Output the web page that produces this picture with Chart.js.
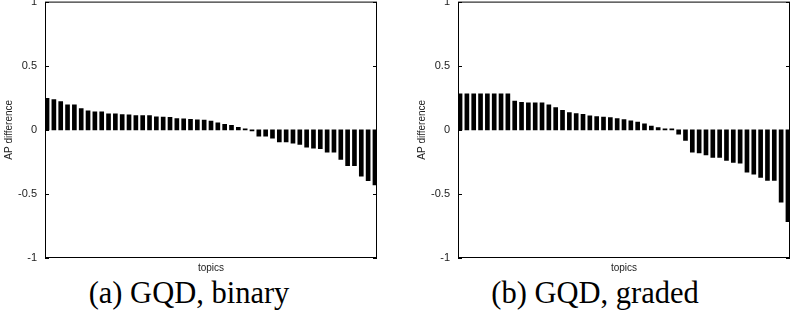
<!DOCTYPE html>
<html><head><meta charset="utf-8">
<script src="https://cdn.jsdelivr.net/npm/chart.js@4.4.1/dist/chart.umd.min.js"></script>
<style>
html,body{margin:0;padding:0;background:#fff;width:798px;height:316px;overflow:hidden;position:relative}
.box{position:absolute;top:-13px;width:385px;height:289px}
.cap{position:absolute;font-family:"Liberation Serif","Times New Roman",serif;font-size:30.5px;line-height:30px;white-space:nowrap;color:#000;text-align:center;width:300px}
</style></head><body>
<div class="box" style="left:0"><canvas id="c1"></canvas></div>
<div class="box" style="left:413px"><canvas id="c2"></canvas></div>
<div class="cap" style="left:39px;top:278px">(a) GQD, binary</div>
<div class="cap" style="left:445px;top:278px">(b) GQD, graded</div>
<script>
const topics = [1,2,3,4,5,6,7,8,9,10,11,12,13,14,15,16,17,18,19,20,21,22,23,24,25,26,27,28,29,30,31,32,33,34,35,36,37,38,39,40,41,42,43,44,45,46,47,48,49];
const binaryDiff = [0.245,0.235,0.22,0.195,0.195,0.165,0.148,0.14,0.14,0.125,0.125,0.118,0.117,0.11,0.11,0.11,0.102,0.1,0.097,0.088,0.085,0.082,0.077,0.075,0.068,0.055,0.043,0.034,0.02,0.004,-0.004,-0.05,-0.05,-0.065,-0.095,-0.095,-0.104,-0.115,-0.135,-0.143,-0.148,-0.174,-0.174,-0.232,-0.279,-0.279,-0.362,-0.396,-0.43];
const gradedDiff = [0.28,0.28,0.28,0.28,0.28,0.28,0.28,0.28,0.224,0.215,0.21,0.21,0.21,0.195,0.173,0.152,0.135,0.127,0.121,0.108,0.103,0.1,0.095,0.088,0.08,0.07,0.06,0.046,0.029,0.018,0.008,0.003,-0.035,-0.083,-0.175,-0.18,-0.195,-0.215,-0.215,-0.238,-0.254,-0.26,-0.331,-0.347,-0.372,-0.395,-0.395,-0.565,-0.716];
const yTicks = [-1,-0.5,0,0.5,1];
const yTickLabels = ['-1','-0.5','0','0.5','1'];
const yTitle = 'AP difference';
const xTitle = 'topics';

const framePlugin = {
  id:'frame',
  afterDraw(chart){
    const {ctx, chartArea:a, scales} = chart;
    ctx.save();
    ctx.strokeStyle = '#000';
    ctx.lineWidth = 1;
    ctx.strokeRect(a.left+0.5, a.top+0.5, a.right-a.left-1, a.bottom-a.top-1);
    ctx.beginPath();
    yTicks.forEach(v=>{
      const y = Math.round(scales.y.getPixelForValue(v))+0.5;
      ctx.moveTo(a.left, y); ctx.lineTo(a.left+4, y);
      ctx.moveTo(a.right-4, y); ctx.lineTo(a.right, y);
    });
    ctx.stroke();
    ctx.restore();
  }
};

function makeChart(id, values){
  return new Chart(document.getElementById(id), {
    type:'bar',
    data:{datasets:[{data: topics.map((t,i)=>({x:t, y:values[i]})), backgroundColor:'#000', borderWidth:0, barThickness:4, minBarLength:1}]},
    options:{
      responsive:true, maintainAspectRatio:false, animation:false,
      layout:{padding:{left:0,right:8,top:0,bottom:1.4}},
      plugins:{legend:{display:false}, tooltip:{enabled:false}},
      scales:{
        x:{type:'linear', min:0.7, max:49.3, offset:false, bounds:'ticks',
           grid:{display:false, drawTicks:false, tickLength:0, offset:false},
           border:{display:false},
           ticks:{display:false},
           title:{display:true, text:xTitle, color:'#222', font:{family:'Liberation Sans', size:10}, padding:{top:0,bottom:0}},
           afterFit(s){ s.height = 16.6; }},
        y:{min:-1, max:1,
           grid:{display:false, drawTicks:false, tickLength:0},
           border:{display:false},
           afterBuildTicks(s){ s.ticks = yTicks.map(v=>({value:v})); },
           ticks:{padding:8, color:'#222', font:{family:'Liberation Sans', size:11},
                  callback:(v)=>yTickLabels[yTicks.indexOf(v)]},
           title:{display:true, text:yTitle, color:'#222', font:{family:'Liberation Sans', size:10}, padding:{top:3,bottom:0}},
           afterFit(s){ s.width = 45; }}
      }
    },
    plugins:[framePlugin]
  });
}
makeChart('c1', binaryDiff);
makeChart('c2', gradedDiff);
</script>
</body></html>
